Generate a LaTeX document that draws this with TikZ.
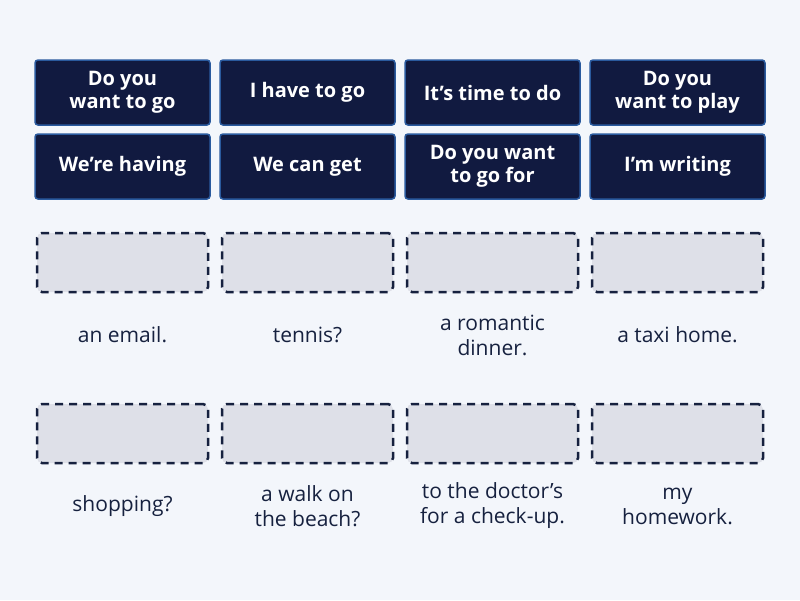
\documentclass[tikz,border=0pt]{standalone}
\usepackage{fontspec}
\setmainfont{Open Sans}
\definecolor{bg}{HTML}{F3F6FB}
\definecolor{tile}{HTML}{111A40}
\definecolor{tileb}{HTML}{2A5A9E}
\definecolor{slot}{HTML}{DEE0E8}
\definecolor{ink}{HTML}{16213F}
\tikzset{
  tilebox/.style={draw=tileb,line width=1.5pt,fill=tile,rounded corners=3pt,minimum width=175pt,minimum height=65pt,text=white,font=\bfseries\fontsize{20}{23}\selectfont,align=center,inner sep=0pt},
  slotbox/.style={draw=ink,line width=2.5pt,dash pattern=on 8pt off 6pt,fill=slot,rounded corners=5pt,minimum width=171pt,minimum height=59pt,inner sep=0pt},
  lab/.style={text=ink,font=\fontsize{21}{25}\selectfont,align=center,inner sep=0pt}
}
\begin{document}
\begin{tikzpicture}[x=1pt,y=-1pt]
\fill[bg] (0,0) rectangle (800,600);
\useasboundingbox (0,0) rectangle (800,600);
\node[tilebox] (t1) at (122.5,92.5) {Do you\\want to go};
\node[tilebox] (t2) at (307.5,92.5) {I have to go};
\node[tilebox] (t3) at (492.5,92.5) {It's time to do};
\node[tilebox] (t4) at (677.5,92.5) {Do you\\want to play};
\node[tilebox] (t5) at (122.5,166.5) {We're having};
\node[tilebox] (t6) at (307.5,166.5) {We can get};
\node[tilebox] (t7) at (492.5,166.5) {Do you want\\to go for};
\node[tilebox] (t8) at (677.5,166.5) {I'm writing};
\node[slotbox] (s1) at (122.5,262.5) {};
\node[slotbox] (s2) at (307.5,262.5) {};
\node[slotbox] (s3) at (492.5,262.5) {};
\node[slotbox] (s4) at (677.5,262.5) {};
\node[slotbox] (s5) at (122.5,433.5) {};
\node[slotbox] (s6) at (307.5,433.5) {};
\node[slotbox] (s7) at (492.5,433.5) {};
\node[slotbox] (s8) at (677.5,433.5) {};
\node[lab] (l1) at (122.5,335) {an email.};
\node[lab] (l2) at (307.5,335) {tennis?};
\node[lab] (l3) at (492.5,335) {a romantic\\dinner.};
\node[lab] (l4) at (677.5,335) {a taxi home.};
\node[lab] (l5) at (122.5,506) {shopping?};
\node[lab] (l6) at (307.5,506) {a walk on\\the beach?};
\node[lab] (l7) at (492.5,506) {to the doctor's\\for a check-up.};
\node[lab] (l8) at (677.5,506) {my\\homework.};
\end{tikzpicture}
\end{document}
